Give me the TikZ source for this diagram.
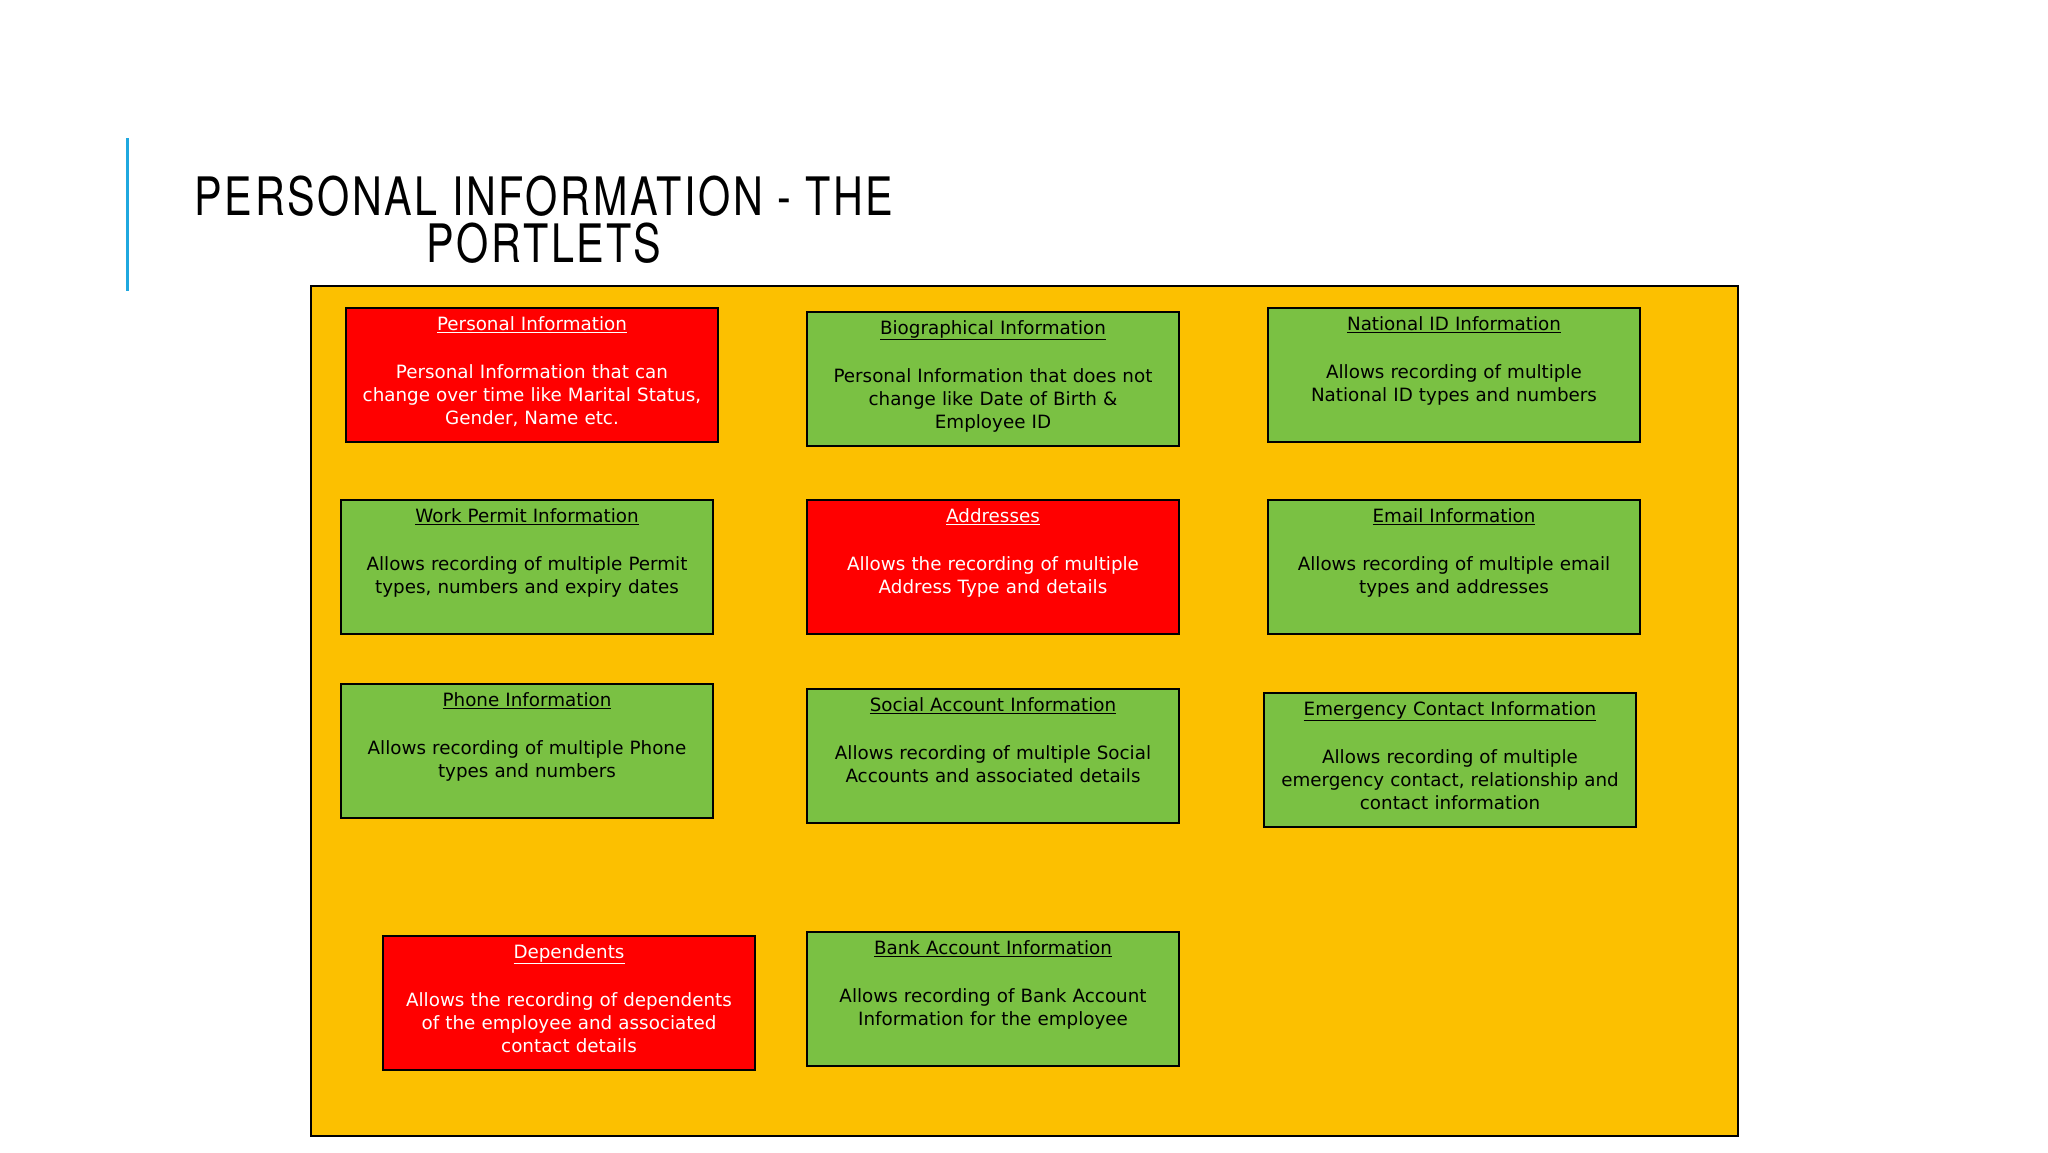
\documentclass[tikz,border=0pt]{standalone}
\usepackage{fontspec}
\setmainfont{DejaVu Sans}
\newfontfamily\titlefont[FakeStretch=0.78,LetterSpace=5]{TeX Gyre Heros}
\usetikzlibrary{positioning}
\definecolor{panelyellow}{HTML}{FCC000}
\definecolor{boxgreen}{HTML}{7AC143}
\definecolor{boxred}{HTML}{FF0000}
\definecolor{accentblue}{HTML}{1FA8DF}
\tikzset{
  x=1pt,y=-1pt,
  titletext/.style={font=\titlefont\fontsize{53}{47}\selectfont,anchor=base,inner sep=0pt},
  portlet/.style={draw=black,line width=2pt,minimum width=372pt,minimum height=134pt,inner sep=0pt,anchor=north west},
  redbox/.style={portlet,fill=boxred},
  greenbox/.style={portlet,fill=boxgreen},
  ptext/.style={anchor=north,align=center,font=\fontsize{18.3}{23}\selectfont,inner sep=0pt,text width=366pt},
}
\newcommand{\portlet}[7]{%
  \node[#4box] (#1) at (#2,#3) {};
  \node[ptext,text=#5,yshift=-9pt] (#1t) at (#1.north) {\underline{#6}\\[25pt]#7};
}
\begin{document}
\begin{tikzpicture}
\useasboundingbox (0,0) rectangle (2048,1152);
\fill[white] (0,0) rectangle (2048,1152);
\draw[accentblue,line width=3pt] (127,138) -- (127,291);
\node[titletext] (title1) at (544,215) {PERSONAL INFORMATION - THE};
\node[titletext] (title2) at (544,262) {PORTLETS};
\node[draw=black,line width=2pt,fill=panelyellow,minimum width=1427pt,minimum height=850pt,anchor=north west,inner sep=0pt] (panel) at (310,285) {};
\portlet{pers}{345}{307}{red}{white}{Personal Information}{Personal Information that can\\change over time like Marital Status,\\Gender, Name etc.}
\portlet{bio}{806}{311}{green}{black}{Biographical Information}{Personal Information that does not\\change like Date of Birth \&\\Employee ID}
\portlet{natid}{1267}{307}{green}{black}{National ID Information}{Allows recording of multiple\\National ID types and numbers}
\portlet{work}{340}{499}{green}{black}{Work Permit Information}{Allows recording of multiple Permit\\types, numbers and expiry dates}
\portlet{addr}{806}{499}{red}{white}{Addresses}{Allows the recording of multiple\\Address Type and details}
\portlet{email}{1267}{499}{green}{black}{Email Information}{Allows recording of multiple email\\types and addresses}
\portlet{phone}{340}{683}{green}{black}{Phone Information}{Allows recording of multiple Phone\\types and numbers}
\portlet{social}{806}{688}{green}{black}{Social Account Information}{Allows recording of multiple Social\\Accounts and associated details}
\portlet{emerg}{1263}{692}{green}{black}{Emergency Contact Information}{Allows recording of multiple\\emergency contact, relationship and\\contact information}
\portlet{dep}{382}{935}{red}{white}{Dependents}{Allows the recording of dependents\\of the employee and associated\\contact details}
\portlet{bank}{806}{931}{green}{black}{Bank Account Information}{Allows recording of Bank Account\\Information for the employee}
\end{tikzpicture}
\end{document}
